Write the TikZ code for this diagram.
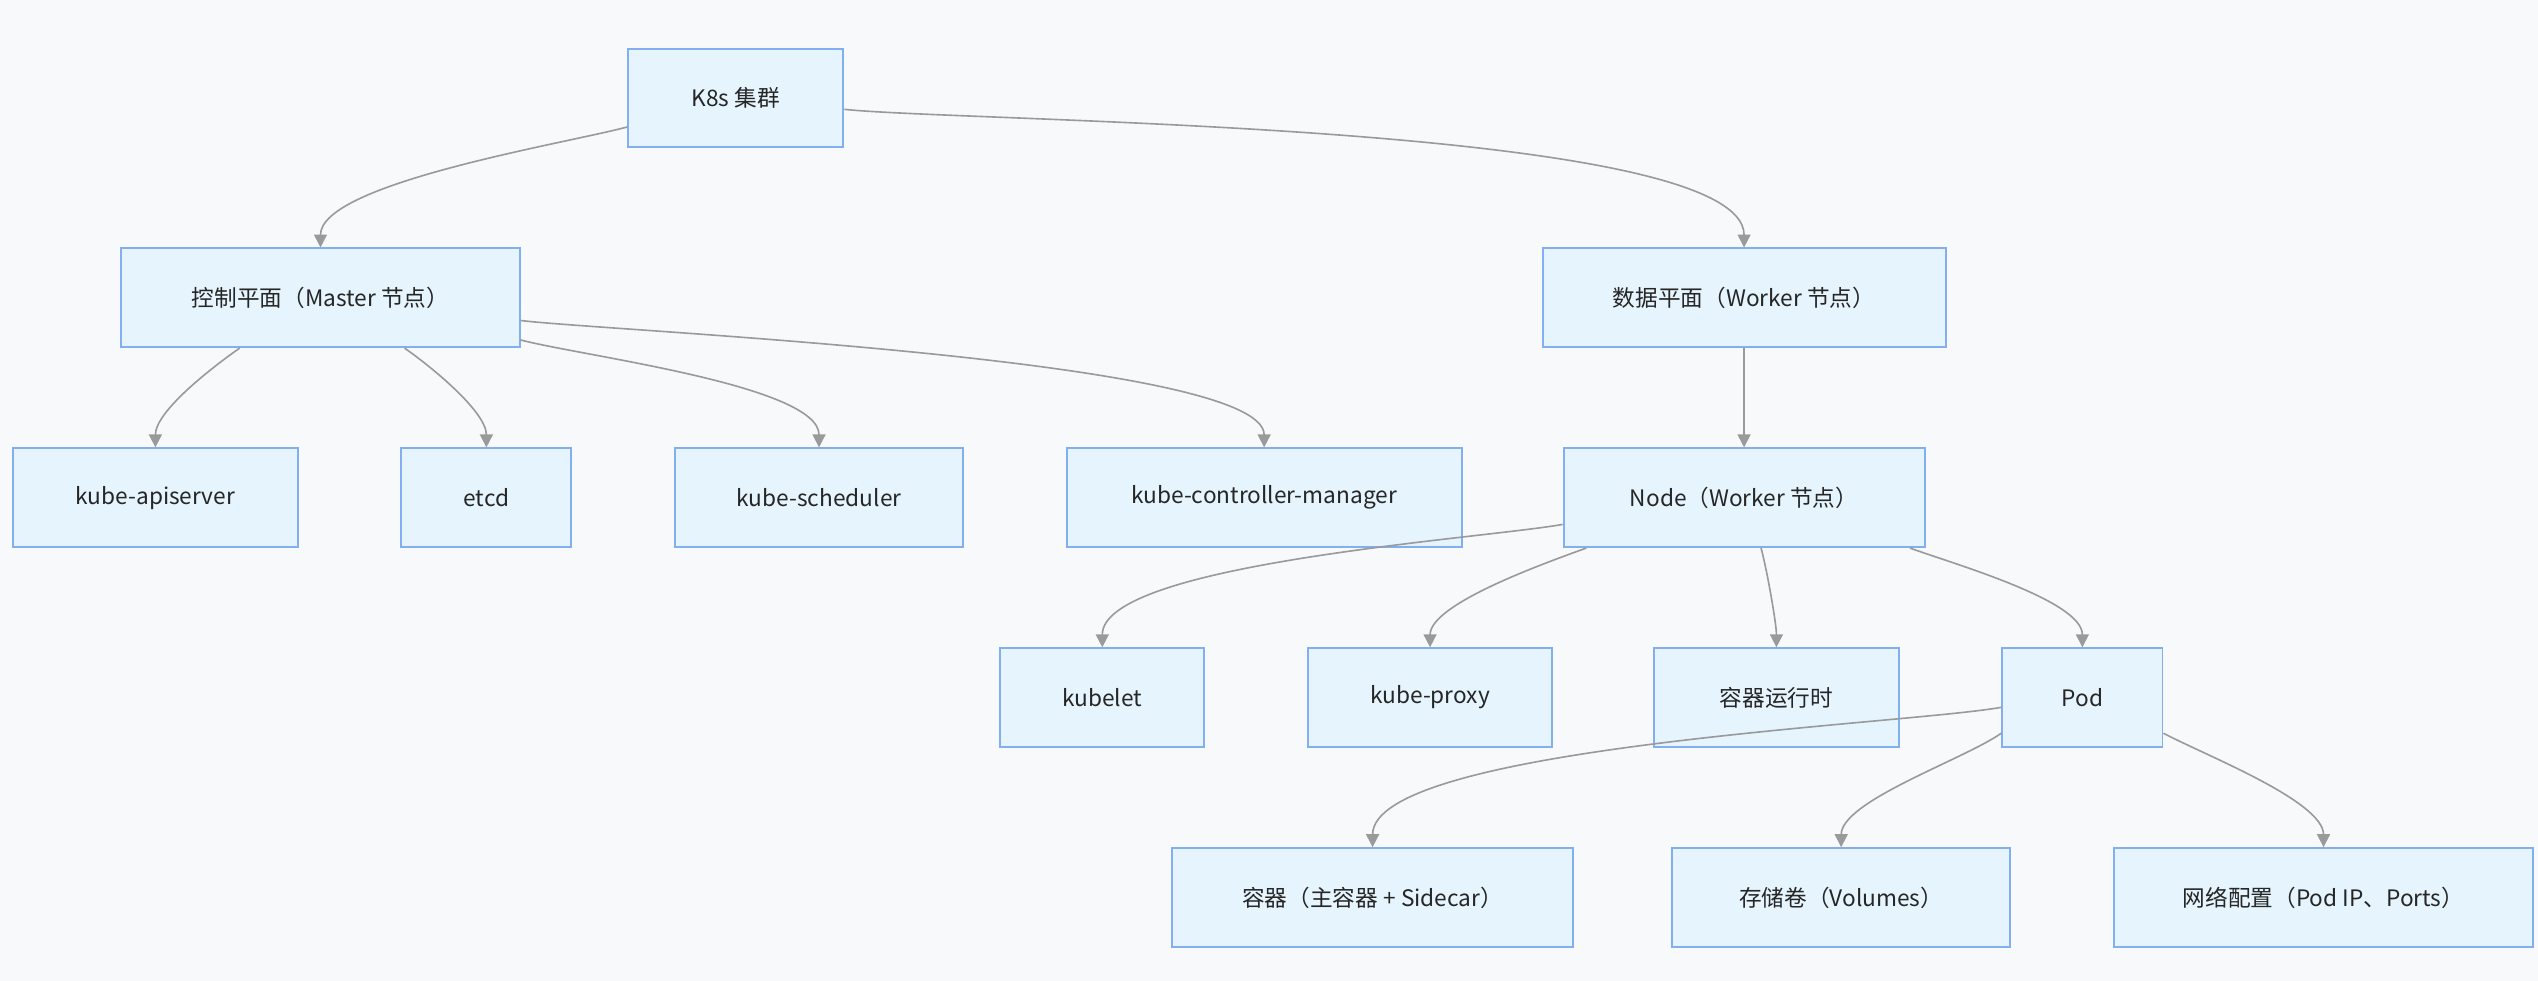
\documentclass[tikz,border=0pt]{standalone}
\usepackage{fontspec}
\setmainfont{Noto Sans CJK SC}
\usetikzlibrary{arrows.meta,calc}
\definecolor{bg}{HTML}{F8F9FB}
\definecolor{bx}{HTML}{E5F4FD}
\definecolor{bd}{HTML}{82AEF2}
\definecolor{ln}{HTML}{9A9A9A}
\begin{document}
\begin{tikzpicture}[x=0.75pt,y=0.75pt,
 b/.style={draw=bd,fill=bx,line width=0.9pt,minimum height=45.75pt,font=\fontsize{10.5}{12}\selectfont,text=black!85,inner sep=0pt},
 e/.style={draw=ln,line width=0.75pt,-{Triangle[length=6pt,width=6pt,fill=ln]}}]
\fill[bg] (0,0) rectangle (1568,-606);
\useasboundingbox (0,0) rectangle (1568,-606);
\node[b,minimum width=99.75pt] (k8s) at (454.5,-60.5) {K8s 集群};
\node[b,minimum width=184.5pt] (master) at (198,-184) {控制平面（Master 节点）};
\node[b,minimum width=186.75pt] (worker) at (1077.5,-184) {数据平面（Worker 节点）};
\node[b,minimum width=132pt] (api) at (96,-307.5) {kube-apiserver};
\node[b,minimum width=78.75pt] (etcd) at (300.5,-307.5) {etcd};
\node[b,minimum width=133.5pt] (sch) at (506,-307.5) {kube-scheduler};
\node[b,minimum width=183pt] (ctl) at (781,-307.5) {kube-controller-manager};
\node[b,minimum width=167.25pt] (node) at (1077.5,-307.5) {Node（Worker 节点）};
\node[b,minimum width=94.5pt] (kubelet) at (681,-431) {kubelet};
\node[b,minimum width=113.25pt] (proxy) at (883.5,-431) {kube-proxy};
\node[b,minimum width=113.25pt] (rt) at (1097.5,-431) {容器运行时};
\node[b,minimum width=74.25pt] (pod) at (1286.5,-431) {Pod};
\node[b,minimum width=186pt] (ctr) at (848,-554.5) {容器（主容器 + Sidecar）};
\node[b,minimum width=156.75pt] (vol) at (1137.5,-554.5) {存储卷（Volumes）};
\node[b,minimum width=194.25pt] (net) at (1435.5,-554.5) {网络配置（Pod IP、Ports）};
\draw[e] (k8s.195) to[out=195,in=90,looseness=0.5] (master.north);
\draw[e] (k8s.354) to[out=354,in=90,looseness=0.35] (worker.north);
\draw[e] ($(master.south)+(-50,0)$) to[out=215,in=90,looseness=0.7] (api.north);
\draw[e] ($(master.south)+(52,0)$) to[out=-35,in=90,looseness=0.7] (etcd.north);
\draw[e] ($(master.east)+(0,-26)$) to[out=-15,in=90,looseness=0.5] (sch.north);
\draw[e] ($(master.east)+(0,-14)$) to[out=-7,in=90,looseness=0.3] (ctl.north);
\draw[e] (worker) -- (node);
\draw[e] ($(node.west)+(0,-16.5)$) to[out=190,in=90,looseness=0.45] (kubelet.north);
\draw[e] ($(node.south)+(-97.5,0)$) to[out=200,in=90,looseness=0.6] (proxy.north);
\draw[e] ($(node.south)+(10.5,0)$) to[out=-75,in=90,looseness=0.6] (rt.north);
\draw[e] ($(node.south)+(102.5,0)$) to[out=-20,in=90,looseness=0.6] (pod.north);
\draw[e] ($(pod.west)+(0,-6)$) to[out=190,in=90,looseness=0.4] (ctr.north);
\draw[e] ($(pod.west)+(0,-22)$) to[out=215,in=90,looseness=0.6] (vol.north);
\draw[e] ($(pod.east)+(0,-22)$) to[out=-28,in=90,looseness=0.6] (net.north);
\end{tikzpicture}
\end{document}
